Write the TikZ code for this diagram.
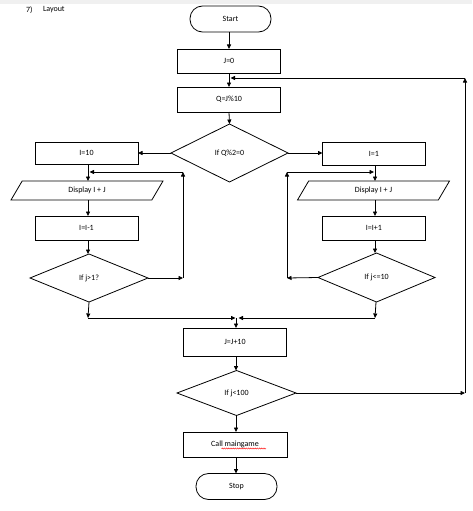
\documentclass[tikz,border=0pt]{standalone}
\usepackage{fontspec}
\setmainfont{Carlito}
\usetikzlibrary{shapes.geometric,arrows.meta,decorations.pathmorphing}
\begin{document}
\begin{tikzpicture}[x=1pt,y=-1pt,
  font=\fontsize{8}{9}\selectfont,
  every node/.style={inner sep=0pt,outer sep=0pt},
  ln/.style={line width=0.8pt,black},
  arr/.style={ln,-{Triangle[length=4.5pt,width=4pt]}},
  procbox/.style={draw,ln,rectangle,minimum width=103pt,minimum height=24pt},
  termbox/.style={draw,ln,rectangle,rounded corners=12.5pt,minimum width=81pt,minimum height=26pt},
  decbox/.style={draw,ln,diamond,minimum width=118pt,minimum height=48pt},
  iobox/.style={draw,ln,trapezium,trapezium left angle=31.5,trapezium right angle=148.5,
     trapezium stretches body,minimum width=152pt,minimum height=19pt}]
\useasboundingbox (0,0) rectangle (472,511);
\fill[white] (0,0) rectangle (472,511);
\fill[black!6] (0,0) rectangle (472,4);
\node[anchor=west] (num) at (26,10) {7)};
\node[anchor=west] (ttl) at (43,10) {Layout};
% main column
\node[termbox] (start) at (230.5,19) {Start};
\node[procbox,minimum height=24pt] (j0) at (229,61) {J=0};
\node[procbox,minimum height=25pt] (q) at (229,99.5) {Q=J\%10};
\node[decbox,minimum width=117pt,minimum height=58pt] (dq) at (229.5,153) {If Q\%2=0};
% left column
\node[procbox,minimum height=22pt] (i10) at (86.5,153) {I=10};
\node[iobox] (d1) at (87,190.5) {Display I + J};
\node[procbox] (im1) at (86.5,228) {I=I-1};
\node[decbox] (dgt) at (89,278) {If j>1?};
% right column
\node[procbox,minimum height=23pt] (i1) at (374,153.5) {I=1};
\node[iobox] (d2) at (373.5,190.5) {Display I + J};
\node[procbox] (ip1) at (374,228) {I=I+1};
\node[decbox,minimum width=117pt,minimum height=49pt] (dle) at (376.5,277.5) {If j<=10};
% lower column
\node[procbox,minimum height=28pt] (jj) at (235,342) {J=J+10};
\node[decbox,minimum width=119pt,minimum height=45pt] (d100) at (236.5,393) {If j<100};
\node[procbox,minimum width=104pt,minimum height=25pt] (call) at (235,444.5) {Call maingame};
\node[termbox] (stop) at (236.5,486.5) {Stop};
\draw[red,line width=0.4pt,decorate,decoration={snake,amplitude=0.6pt,segment length=2.2pt}] (221.5,448.5) -- (266,448.5);
% coordinates
\coordinate (rb) at (465,393);
\coordinate (rt) at (465,78);
\coordinate (qin) at (230.5,78);
\coordinate (lc) at (183,278);
\coordinate (lt) at (183,172);
\coordinate (lin) at (89.5,172);
\coordinate (rc) at (287,278);
\coordinate (rtp) at (287,172);
\coordinate (rin) at (374,172);
\coordinate (lb) at (88,318);
\coordinate (rbm) at (375,318);
\coordinate (mjl) at (235.5,318);
\coordinate (mjr) at (238.5,318);
\coordinate (mj) at (236,318);
% connectors main
\draw[arr] (j0.north |- start.south) -- (j0.north);
\draw[arr] (j0.south) -- (q.north);
\draw[arr] (q.south) -- (dq.north);
\draw[arr] (dq.west) -- (i10.east |- dq.west);
\draw[arr] (dq.east) -- (i1.west |- dq.east);
% left
\draw[arr] (88,164) -- (88,181);
\draw[arr] (88,200) -- (88,216);
\draw[arr] (88,240) -- (88,254);
\draw[arr] (dgt.east) -- (lc);
\draw[arr] (lc) -- (lt);
\draw[arr] (lt) -- (lin);
\draw[arr] (dgt.south) -- (lb);
\draw[arr] (lb) -- (mjl);
% right
\draw[arr] (375,165) -- (375,181);
\draw[arr] (375,200) -- (375,216);
\draw[arr] (375,240) -- (375,253);
\draw[arr] (dle.west) -- (rc);
\draw[arr] (rc) -- (rtp);
\draw[arr] (rtp) -- (rin);
\draw[arr] (376,302) -- (rbm);
\draw[arr] (rbm) -- (mjr);
% lower
\draw[arr] (mj) -- (jj.north -| mj);
\draw[arr] (jj.south -| mj) -- (d100.north -| mj);
\draw[arr] (d100.south -| mj) -- (call.north -| mj);
\draw[arr] (call.south -| mj) -- (stop.north -| mj);
\draw[arr] (d100.east) -- (rb);
\draw[arr] (rb) -- (rt);
\draw[arr] (rt) -- (qin);
\end{tikzpicture}
\end{document}
